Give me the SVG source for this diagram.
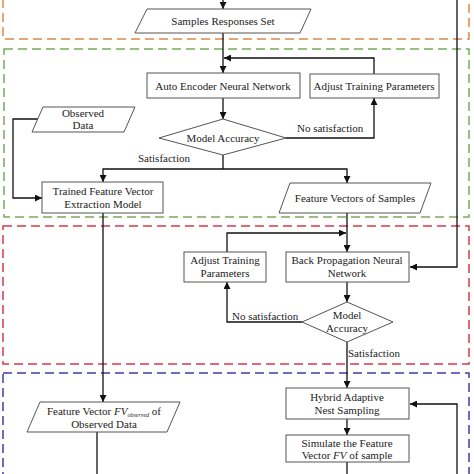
<svg xmlns="http://www.w3.org/2000/svg" width="474" height="474" viewBox="0 0 474 474">
<style>
.bg{fill:#fff}
.reg{fill:none;stroke-width:1.5;stroke-dasharray:9 5}
.n{fill:#fff;stroke:#555;stroke-width:1}
.c{fill:none;stroke:#111;stroke-width:1.3}
.t{font-family:"Liberation Serif","Times New Roman",serif;font-size:11px;fill:#222;text-anchor:middle}
.l{font-family:"Liberation Serif","Times New Roman",serif;font-size:11px;fill:#222}
</style>
<defs>
<marker id="ah" viewBox="0 0 10 10" refX="10" refY="5" markerWidth="7" markerHeight="7" markerUnits="userSpaceOnUse" orient="auto">
<path d="M0,0 L10,5 L0,10 z" fill="#111"/>
</marker>
</defs>
<rect class="bg" x="0" y="0" width="474" height="474"/>
<g id="regions">
<rect class="reg" x="3" y="-20" width="466" height="59" stroke="#e0884a"/>
<rect class="reg" x="4" y="49" width="465" height="168" stroke="#74ad5a"/>
<rect class="reg" x="3" y="226" width="466" height="138" stroke="#d83a4e"/>
<rect class="reg" x="3" y="373" width="466" height="120" stroke="#3b3fa8"/>
</g>
<g id="connectors">
<path class="c" d="M223,0 V9" marker-end="url(#ah)"/>
<path class="c" d="M457,0 V267 H410" marker-end="url(#ah)"/>
<path class="c" d="M223,33 V73" marker-end="url(#ah)"/>
<path class="c" d="M374,74 V58 H224" marker-end="url(#ah)"/>
<path class="c" d="M223,98 V119" marker-end="url(#ah)"/>
<path class="c" d="M286,138 H374 V98" marker-end="url(#ah)"/>
<path class="c" d="M223,155 V169"/>
<path class="c" d="M223,169 H103 V182" marker-end="url(#ah)"/>
<path class="c" d="M223,169 H347 V183" marker-end="url(#ah)"/>
<path class="c" d="M38,119 H13 V198 H42" marker-end="url(#ah)"/>
<path class="c" d="M103,213 V402" marker-end="url(#ah)"/>
<path class="c" d="M347,213 V252" marker-end="url(#ah)"/>
<path class="c" d="M227,252 V233 H346" marker-end="url(#ah)"/>
<path class="c" d="M347,282 V302" marker-end="url(#ah)"/>
<path class="c" d="M302,322 H227 V282" marker-end="url(#ah)"/>
<path class="c" d="M347,342 V388" marker-end="url(#ah)"/>
<path class="c" d="M347,419 V435" marker-end="url(#ah)"/>
<path class="c" d="M347,462 V474"/>
<path class="c" d="M457,474 V404 H410" marker-end="url(#ah)"/>
<path class="c" d="M97,432 V474"/>
<text class="l" x="297" y="132">No satisfaction</text>
<text class="l" x="138" y="162">Satisfaction</text>
<text class="l" x="232" y="320">No satisfaction</text>
<text class="l" x="348" y="357">Satisfaction</text>
</g>
<g id="samples">
<polygon class="n" points="147,9 311,9 300,33 135,33"/>
<text class="t" x="223" y="25">Samples Responses Set</text>
</g>
<g id="autoencoder">
<rect class="n" x="147" y="73" width="153" height="25"/>
<text class="t" x="223" y="90">Auto Encoder Neural Network</text>
</g>
<g id="adjust1">
<rect class="n" x="310" y="74" width="129" height="24"/>
<text class="t" x="374" y="90">Adjust Training Parameters</text>
</g>
<g id="accuracy1">
<polygon class="n" points="223,119 286,138 223,155 159,138"/>
<text class="t" x="223" y="142">Model Accuracy</text>
</g>
<g id="observed">
<polygon class="n" points="43,107 135,107 124,132 32,132"/>
<text class="t" x="83" y="117">Observed</text>
<text class="t" x="83" y="129">Data</text>
</g>
<g id="trained">
<rect class="n" x="42" y="182" width="121" height="31"/>
<text class="t" x="103" y="195">Trained Feature Vector</text>
<text class="t" x="103" y="208">Extraction Model</text>
</g>
<g id="fvsamples">
<polygon class="n" points="290,183 431,183 420,213 279,213"/>
<text class="t" x="355" y="202">Feature Vectors of Samples</text>
</g>
<g id="adjust2">
<rect class="n" x="184" y="252" width="82" height="30"/>
<text class="t" x="225" y="264">Adjust Training</text>
<text class="t" x="225" y="277">Parameters</text>
</g>
<g id="bpnn">
<rect class="n" x="286" y="252" width="123" height="30"/>
<text class="t" x="347" y="264">Back Propagation Neural</text>
<text class="t" x="347" y="277">Network</text>
</g>
<g id="accuracy2">
<polygon class="n" points="347,302 393,322 347,342 302,322"/>
<text class="t" x="347" y="319">Model</text>
<text class="t" x="347" y="332">Accuracy</text>
</g>
<g id="fvobserved">
<polygon class="n" points="40,402 180,402 167,432 27,432"/>
<text class="t" x="104" y="415">Feature Vector <tspan font-style="italic">FV</tspan><tspan font-style="italic" font-size="6" dy="2">observed</tspan><tspan dy="-2">   of</tspan></text>
<text class="t" x="104" y="428">Observed Data</text>
</g>
<g id="hybrid">
<rect class="n" x="286" y="388" width="123" height="31"/>
<text class="t" x="347" y="401">Hybrid Adaptive</text>
<text class="t" x="347" y="414">Nest Sampling</text>
</g>
<g id="simulate">
<rect class="n" x="286" y="435" width="123" height="27"/>
<text class="t" x="347" y="447">Simulate the Feature</text>
<text class="t" x="347" y="459">Vector <tspan font-style="italic">FV</tspan> of sample</text>
</g>
</svg>
